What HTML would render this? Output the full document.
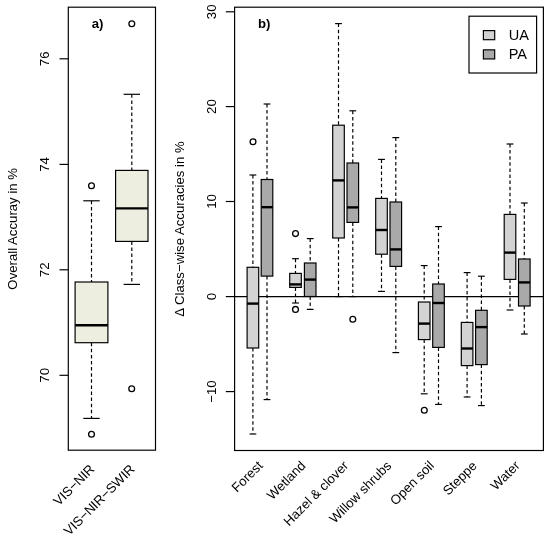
<!DOCTYPE html>
<html><head><meta charset="utf-8"><title>Boxplots</title>
<style>html,body{margin:0;padding:0;background:#fff}svg{display:block}text{font-family:"Liberation Sans", Arial, sans-serif;fill:#000}.l{stroke:#000;stroke-width:1.18}.d{stroke:#000;stroke-width:1.18;stroke-dasharray:3.5 2.6}.c{stroke:#000;stroke-width:1.3;fill:none}.t{font-size:13.2px}.b{font-size:13.2px;font-weight:bold}.lg{font-size:14.52px}</style></head><body>
<svg width="550" height="540" viewBox="0 0 550 540">
<rect width="550" height="540" fill="#fff"/>
<line x1="91.5" y1="200.8" x2="91.5" y2="282.0" class="d"/>
<line x1="91.5" y1="342.7" x2="91.5" y2="418.4" class="d"/>
<line x1="83.3" y1="200.8" x2="99.7" y2="200.8" class="l"/>
<line x1="83.3" y1="418.4" x2="99.7" y2="418.4" class="l"/>
<rect x="75.1" y="282.0" width="32.80000000000001" height="60.69999999999999" fill="#EEEEE0" class="l"/>
<line x1="75.1" y1="325.2" x2="107.9" y2="325.2" stroke="#000" stroke-width="2.4"/>
<circle cx="91.5" cy="185.79999999999998" r="2.9" class="c"/>
<circle cx="91.5" cy="434.2" r="2.9" class="c"/>
<line x1="131.8" y1="94.3" x2="131.8" y2="170.4" class="d"/>
<line x1="131.8" y1="241.4" x2="131.8" y2="284.4" class="d"/>
<line x1="123.60000000000001" y1="94.3" x2="140.0" y2="94.3" class="l"/>
<line x1="123.60000000000001" y1="284.4" x2="140.0" y2="284.4" class="l"/>
<rect x="115.60000000000001" y="170.4" width="32.39999999999999" height="71.0" fill="#EEEEE0" class="l"/>
<line x1="115.60000000000001" y1="208.4" x2="148.0" y2="208.4" stroke="#000" stroke-width="2.4"/>
<circle cx="131.8" cy="23.8" r="2.9" class="c"/>
<circle cx="131.7" cy="388.8" r="2.9" class="c"/>
<rect x="68.3" y="7.2" width="87.2" height="443.0" fill="none" class="l"/>
<line x1="59.5" y1="58.8" x2="68.3" y2="58.8" class="l"/>
<text class="t" text-anchor="middle" transform="translate(48.5,58.8) rotate(-90)">76</text>
<line x1="59.5" y1="164.4" x2="68.3" y2="164.4" class="l"/>
<text class="t" text-anchor="middle" transform="translate(48.5,164.4) rotate(-90)">74</text>
<line x1="59.5" y1="269.8" x2="68.3" y2="269.8" class="l"/>
<text class="t" text-anchor="middle" transform="translate(48.5,269.8) rotate(-90)">72</text>
<line x1="59.5" y1="375.3" x2="68.3" y2="375.3" class="l"/>
<text class="t" text-anchor="middle" transform="translate(48.5,375.3) rotate(-90)">70</text>
<text class="t" text-anchor="middle" transform="translate(17.4,228.8) rotate(-90)">Overall Accuray in %</text>
<text class="b" x="91.7" y="27.7">a)</text>
<text class="t" text-anchor="end" transform="translate(95.3,470.0) rotate(-45)">VIS−NIR</text>
<text class="t" text-anchor="end" transform="translate(135.5,470.0) rotate(-45)">VIS−NIR−SWIR</text>
<line x1="234.6" y1="296.6" x2="543.4" y2="296.6" class="l"/>
<line x1="252.9" y1="175.0" x2="252.9" y2="267.3" class="d"/>
<line x1="252.9" y1="348.0" x2="252.9" y2="434.0" class="d"/>
<line x1="249.5" y1="175.0" x2="256.3" y2="175.0" class="l"/>
<line x1="249.5" y1="434.0" x2="256.3" y2="434.0" class="l"/>
<rect x="247.1" y="267.3" width="11.599999999999994" height="80.69999999999999" fill="#D3D3D3" class="l"/>
<line x1="247.1" y1="303.6" x2="258.7" y2="303.6" stroke="#000" stroke-width="2.4"/>
<circle cx="253" cy="141.79999999999998" r="2.9" class="c"/>
<line x1="267.0" y1="104.0" x2="267.0" y2="179.5" class="d"/>
<line x1="267.0" y1="276.1" x2="267.0" y2="399.6" class="d"/>
<line x1="263.6" y1="104.0" x2="270.4" y2="104.0" class="l"/>
<line x1="263.6" y1="399.6" x2="270.4" y2="399.6" class="l"/>
<rect x="261.2" y="179.5" width="11.600000000000023" height="96.60000000000002" fill="#A9A9A9" class="l"/>
<line x1="261.2" y1="207.2" x2="272.8" y2="207.2" stroke="#000" stroke-width="2.4"/>
<line x1="295.5" y1="258.7" x2="295.5" y2="273.4" class="d"/>
<line x1="295.5" y1="287.4" x2="295.5" y2="303.0" class="d"/>
<line x1="292.1" y1="258.7" x2="298.9" y2="258.7" class="l"/>
<line x1="292.1" y1="303.0" x2="298.9" y2="303.0" class="l"/>
<rect x="289.7" y="273.4" width="11.600000000000023" height="14.0" fill="#D3D3D3" class="l"/>
<line x1="289.7" y1="284.4" x2="301.3" y2="284.4" stroke="#000" stroke-width="2.4"/>
<circle cx="295.5" cy="233.6" r="2.9" class="c"/>
<circle cx="295.5" cy="309.4" r="2.9" class="c"/>
<line x1="310.2" y1="238.6" x2="310.2" y2="263.0" class="d"/>
<line x1="310.2" y1="296.5" x2="310.2" y2="309.4" class="d"/>
<line x1="306.8" y1="238.6" x2="313.59999999999997" y2="238.6" class="l"/>
<line x1="306.8" y1="309.4" x2="313.59999999999997" y2="309.4" class="l"/>
<rect x="304.4" y="263.0" width="11.600000000000023" height="33.5" fill="#A9A9A9" class="l"/>
<line x1="304.4" y1="279.6" x2="316.0" y2="279.6" stroke="#000" stroke-width="2.4"/>
<line x1="338.5" y1="23.6" x2="338.5" y2="125.2" class="d"/>
<line x1="338.5" y1="238.0" x2="338.5" y2="296.6" class="d"/>
<line x1="335.1" y1="23.6" x2="341.9" y2="23.6" class="l"/>
<line x1="335.1" y1="296.6" x2="341.9" y2="296.6" class="l"/>
<rect x="332.7" y="125.2" width="11.600000000000023" height="112.8" fill="#D3D3D3" class="l"/>
<line x1="332.7" y1="180.4" x2="344.3" y2="180.4" stroke="#000" stroke-width="2.4"/>
<line x1="352.8" y1="110.8" x2="352.8" y2="163.0" class="d"/>
<line x1="352.8" y1="222.4" x2="352.8" y2="296.6" class="d"/>
<line x1="349.40000000000003" y1="110.8" x2="356.2" y2="110.8" class="l"/>
<line x1="349.40000000000003" y1="296.6" x2="356.2" y2="296.6" class="l"/>
<rect x="347.0" y="163.0" width="11.600000000000023" height="59.400000000000006" fill="#A9A9A9" class="l"/>
<line x1="347.0" y1="207.4" x2="358.6" y2="207.4" stroke="#000" stroke-width="2.4"/>
<circle cx="352.8" cy="319.2" r="2.9" class="c"/>
<line x1="381.5" y1="159.4" x2="381.5" y2="198.4" class="d"/>
<line x1="381.5" y1="254.2" x2="381.5" y2="291.4" class="d"/>
<line x1="378.1" y1="159.4" x2="384.9" y2="159.4" class="l"/>
<line x1="378.1" y1="291.4" x2="384.9" y2="291.4" class="l"/>
<rect x="375.7" y="198.4" width="11.600000000000023" height="55.79999999999998" fill="#D3D3D3" class="l"/>
<line x1="375.7" y1="230.0" x2="387.3" y2="230.0" stroke="#000" stroke-width="2.4"/>
<line x1="395.8" y1="137.6" x2="395.8" y2="202.0" class="d"/>
<line x1="395.8" y1="266.4" x2="395.8" y2="352.6" class="d"/>
<line x1="392.40000000000003" y1="137.6" x2="399.2" y2="137.6" class="l"/>
<line x1="392.40000000000003" y1="352.6" x2="399.2" y2="352.6" class="l"/>
<rect x="390.0" y="202.0" width="11.600000000000023" height="64.39999999999998" fill="#A9A9A9" class="l"/>
<line x1="390.0" y1="249.4" x2="401.6" y2="249.4" stroke="#000" stroke-width="2.4"/>
<line x1="424.2" y1="265.6" x2="424.2" y2="302.0" class="d"/>
<line x1="424.2" y1="339.6" x2="424.2" y2="393.8" class="d"/>
<line x1="420.8" y1="265.6" x2="427.59999999999997" y2="265.6" class="l"/>
<line x1="420.8" y1="393.8" x2="427.59999999999997" y2="393.8" class="l"/>
<rect x="418.4" y="302.0" width="11.600000000000023" height="37.60000000000002" fill="#D3D3D3" class="l"/>
<line x1="418.4" y1="323.6" x2="430.0" y2="323.6" stroke="#000" stroke-width="2.4"/>
<circle cx="424.3" cy="410.2" r="2.9" class="c"/>
<line x1="438.5" y1="226.6" x2="438.5" y2="284.0" class="d"/>
<line x1="438.5" y1="347.4" x2="438.5" y2="404.4" class="d"/>
<line x1="435.1" y1="226.6" x2="441.9" y2="226.6" class="l"/>
<line x1="435.1" y1="404.4" x2="441.9" y2="404.4" class="l"/>
<rect x="432.7" y="284.0" width="11.600000000000023" height="63.39999999999998" fill="#A9A9A9" class="l"/>
<line x1="432.7" y1="303.0" x2="444.3" y2="303.0" stroke="#000" stroke-width="2.4"/>
<line x1="467.1" y1="272.6" x2="467.1" y2="322.4" class="d"/>
<line x1="467.1" y1="365.6" x2="467.1" y2="397.0" class="d"/>
<line x1="463.70000000000005" y1="272.6" x2="470.5" y2="272.6" class="l"/>
<line x1="463.70000000000005" y1="397.0" x2="470.5" y2="397.0" class="l"/>
<rect x="461.3" y="322.4" width="11.600000000000023" height="43.200000000000045" fill="#D3D3D3" class="l"/>
<line x1="461.3" y1="348.5" x2="472.90000000000003" y2="348.5" stroke="#000" stroke-width="2.4"/>
<line x1="481.4" y1="276.2" x2="481.4" y2="310.3" class="d"/>
<line x1="481.4" y1="364.6" x2="481.4" y2="405.6" class="d"/>
<line x1="478.0" y1="276.2" x2="484.79999999999995" y2="276.2" class="l"/>
<line x1="478.0" y1="405.6" x2="484.79999999999995" y2="405.6" class="l"/>
<rect x="475.59999999999997" y="310.3" width="11.600000000000023" height="54.30000000000001" fill="#A9A9A9" class="l"/>
<line x1="475.59999999999997" y1="327.1" x2="487.2" y2="327.1" stroke="#000" stroke-width="2.4"/>
<line x1="510.0" y1="144.0" x2="510.0" y2="214.4" class="d"/>
<line x1="510.0" y1="279.4" x2="510.0" y2="310.0" class="d"/>
<line x1="506.6" y1="144.0" x2="513.4" y2="144.0" class="l"/>
<line x1="506.6" y1="310.0" x2="513.4" y2="310.0" class="l"/>
<rect x="504.2" y="214.4" width="11.599999999999966" height="64.99999999999997" fill="#D3D3D3" class="l"/>
<line x1="504.2" y1="252.6" x2="515.8" y2="252.6" stroke="#000" stroke-width="2.4"/>
<line x1="524.3" y1="203.0" x2="524.3" y2="259.0" class="d"/>
<line x1="524.3" y1="306.0" x2="524.3" y2="334.0" class="d"/>
<line x1="520.9" y1="203.0" x2="527.6999999999999" y2="203.0" class="l"/>
<line x1="520.9" y1="334.0" x2="527.6999999999999" y2="334.0" class="l"/>
<rect x="518.5" y="259.0" width="11.599999999999909" height="47.0" fill="#A9A9A9" class="l"/>
<line x1="518.5" y1="282.4" x2="530.0999999999999" y2="282.4" stroke="#000" stroke-width="2.4"/>
<rect x="234.6" y="7.2" width="308.79999999999995" height="443.3" fill="none" class="l"/>
<line x1="225.79999999999998" y1="11.8" x2="234.6" y2="11.8" class="l"/>
<text class="t" text-anchor="middle" transform="translate(215.6,11.8) rotate(-90)">30</text>
<line x1="225.79999999999998" y1="106.6" x2="234.6" y2="106.6" class="l"/>
<text class="t" text-anchor="middle" transform="translate(215.6,106.6) rotate(-90)">20</text>
<line x1="225.79999999999998" y1="201.5" x2="234.6" y2="201.5" class="l"/>
<text class="t" text-anchor="middle" transform="translate(215.6,201.5) rotate(-90)">10</text>
<line x1="225.79999999999998" y1="296.6" x2="234.6" y2="296.6" class="l"/>
<text class="t" text-anchor="middle" transform="translate(215.6,296.6) rotate(-90)">0</text>
<line x1="225.79999999999998" y1="391.6" x2="234.6" y2="391.6" class="l"/>
<text class="t" text-anchor="middle" transform="translate(215.6,391.6) rotate(-90)">−10</text>
<text class="t" text-anchor="middle" transform="translate(184.2,229) rotate(-90)">Δ Class−wise Accuracies in %</text>
<text class="b" x="257.9" y="27.7">b)</text>
<text class="t" text-anchor="end" transform="translate(263.5,466.5) rotate(-45)">Forest</text>
<text class="t" text-anchor="end" transform="translate(306.4,466.5) rotate(-45)">Wetland</text>
<text class="t" text-anchor="end" transform="translate(349.2,466.5) rotate(-45)">Hazel &amp; clover</text>
<text class="t" text-anchor="end" transform="translate(392.2,466.5) rotate(-45)">Willow shrubs</text>
<text class="t" text-anchor="end" transform="translate(434.8,466.5) rotate(-45)">Open soil</text>
<text class="t" text-anchor="end" transform="translate(477.7,466.5) rotate(-45)">Steppe</text>
<text class="t" text-anchor="end" transform="translate(520.6,466.5) rotate(-45)">Water</text>
<rect x="469" y="16.2" width="67.6" height="56.8" fill="#fff" class="l"/>
<rect x="483.4" y="30.6" width="11.3" height="9.1" fill="#D3D3D3" class="l"/>
<rect x="483.4" y="49.85" width="11.3" height="9.1" fill="#A9A9A9" class="l"/>
<text class="lg" x="508.7" y="40.3">UA</text>
<text class="lg" x="508.7" y="59.3">PA</text>
</svg></body></html>
